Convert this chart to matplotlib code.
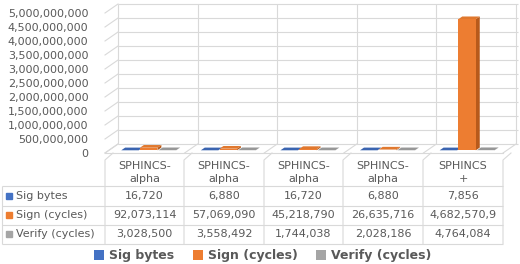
import numpy as np
import matplotlib
matplotlib.use('Agg')
import matplotlib.pyplot as plt
from matplotlib.patches import Polygon, Rectangle
from matplotlib.lines import Line2D
from matplotlib.ticker import FuncFormatter
from matplotlib.transforms import ScaledTranslation, IdentityTransform

categories = ['SPHINCS-\nalpha', 'SPHINCS-\nalpha', 'SPHINCS-\nalpha',
              'SPHINCS-\nalpha', 'SPHINCS\n+']
series_names = ['Sig bytes', 'Sign (cycles)', 'Verify (cycles)']
sig_bytes = [16720, 6880, 16720, 6880, 7856]
sign_cycles = [92073114, 57069090, 45218790, 26635716, 4682570900]
verify_cycles = [3028500, 3558492, 1744038, 2028186, 4764084]
y_ticks = np.arange(0, 5.0e9 + 1, 5e8)

series = [sig_bytes, sign_cycles, verify_cycles]
front_colors = ['#4472C4', '#ED7D31', '#A5A5A5']
top_colors = ['#3A64B0', '#E0782E', '#979797']
side_colors = ['#2F5597', '#B85A1B', '#7B7B7B']
grid_c = '#D9D9D9'
text_c = '#595959'

W, H = 520, 264
fig = plt.figure(figsize=(W / 100, H / 100), dpi=100)

# table drawn on a pixel axes covering the whole figure
tax = fig.add_axes([0, 0, 1, 1], zorder=0)
tax.set_xlim(0, W)
tax.set_ylim(H, 0)
tax.axis('off')

ax = fig.add_axes([105 / W, (H - 153) / H, 398 / W, 140 / H], zorder=1)
ax.patch.set_visible(False)
ax.set_xlim(-0.5, 4.5)
ax.set_ylim(0, 5e9)
for s in ax.spines.values():
    s.set_visible(False)
ax.set_xticks([])
ax.set_yticks(y_ticks)
ax.yaxis.set_major_formatter(FuncFormatter(lambda v, p: f'{int(v):,}'))
ax.tick_params(axis='y', length=0, pad=12, labelsize=8, labelcolor=text_c)

# fake 3d depth, in pixels
DX, DY = 13, 9


def depth(d):
    return ax.transData + ScaledTranslation(d * DX / 100, d * DY / 100,
                                            fig.dpi_scale_trans)


def px(x, y, d=0.0):
    X, Y = ax.transData.transform((x, y))
    return (X + d * DX, Y + d * DY)


def seg(p0, p1, **kw):
    fig.add_artist(Line2D([p0[0], p1[0]], [p0[1], p1[1]],
                          transform=IdentityTransform(), **kw))


bounds = np.arange(-0.5, 5)
# back wall
ax.hlines(y_ticks, -0.5, 4.52, color=grid_c, lw=0.8, transform=depth(1),
          clip_on=False, zorder=0)
ax.vlines(bounds, 0, 5e9, color=grid_c, lw=0.8, transform=depth(1),
          clip_on=False, zorder=0)
# left wall + floor
for t in y_ticks:
    seg(px(-0.5, t, 0), px(-0.5, t, 1), color=grid_c, lw=0.8)
for b in bounds:
    seg(px(b, 0, 0), px(b, 0, 1), color=grid_c, lw=0.8)
seg(px(-0.5, 0, 0), px(4.5, 0, 0), color=grid_c, lw=0.8)

# bars
bw = 0.22
offsets = [-0.235, 0, 0.235]
d0, d1 = 0.3, 0.6
handles = []
for i, vals in enumerate(series):
    xs = np.arange(len(categories)) + offsets[i]
    h = ax.bar(xs, vals, width=bw, color=front_colors[i], transform=depth(d0),
               clip_on=False, zorder=4, label=series_names[i])
    handles.append(h)
    for x, v in zip(xs, vals):
        x0, x1 = x - bw / 2, x + bw / 2
        top = [px(x0, v, d0), px(x1, v, d0), px(x1, v, d1), px(x0, v, d1)]
        side = [px(x1, 0, d0), px(x1, v, d0), px(x1, v, d1), px(x1, 0, d1)]
        for pts, c in ((side, side_colors[i]), (top, top_colors[i])):
            ax.add_patch(Polygon(pts, closed=True, fc=c, ec='none',
                                 transform=IdentityTransform(),
                                 clip_on=False, zorder=3))

# data table
col_edges = [2, 105, 184, 264, 343, 423, 503]
row_edges = [186, 205.5, 224.5, 243.5]
tax.hlines(row_edges, col_edges[0], col_edges[-1], color=grid_c, lw=0.8)
tax.vlines(col_edges[0], row_edges[0], row_edges[-1], color=grid_c, lw=0.8)
for xe in col_edges[1:]:
    tax.plot([xe, xe, xe + 8], [row_edges[-1], 160, 153], color=grid_c, lw=0.8)
for j, name in enumerate(categories):
    cx = (col_edges[j + 1] + col_edges[j + 2]) / 2
    tax.text(cx, 172.5, name, ha='center', va='center', fontsize=8,
             color=text_c, linespacing=1.35)
for i, vals in enumerate(series):
    cy = (row_edges[i] + row_edges[i + 1]) / 2
    tax.add_patch(Rectangle((6, cy - 3), 6, 6, color=front_colors[i]))
    tax.text(16, cy, series_names[i], ha='left', va='center', fontsize=8,
             color=text_c)
    for j, v in enumerate(vals):
        cx = (col_edges[j + 1] + col_edges[j + 2]) / 2
        # excel cut the long number off in the cell
        tax.text(cx, cy, f'{v:,}'[:11], ha='center', va='center',
                 fontsize=8, color=text_c)

fig.legend(handles=handles, labels=series_names, ncol=3, loc='center',
           bbox_to_anchor=(0.505, 1 - 256 / H), frameon=False,
           prop={'weight': 'bold', 'size': 9}, labelcolor=text_c,
           handlelength=0.8, handleheight=0.8, handletextpad=0.4,
           columnspacing=1.5)

fig.savefig('out.png', dpi=100)
